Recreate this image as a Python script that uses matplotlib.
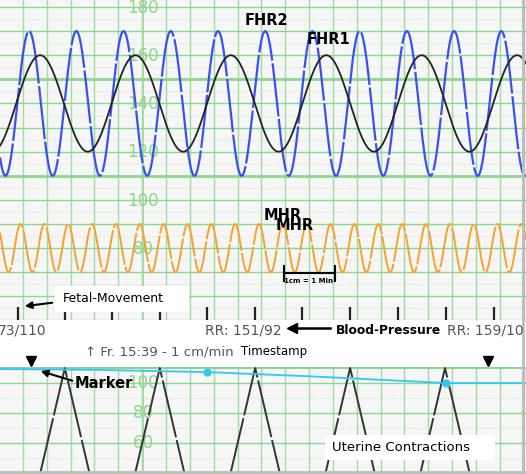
import numpy as np
import matplotlib.pyplot as plt
from matplotlib.patches import Rectangle

W, H = 526, 474
PX_PER_MIN = 47.7

# trace parameters (minutes / bpm)
fhr2_mean, fhr2_amp, fhr2_period, fhr2_peak = 140, 30, 0.99, 0.61
fhr1_mean, fhr1_amp, fhr1_period, fhr1_peak = 140, 20, 2.0, 0.84
mhr_mean, mhr_amp, mhr_period, mhr_peak = 80, 10, 0.5, 0.43

fm_ticks = [0.38, 1.36, 2.35, 3.35, 4.34, 5.35, 6.33, 7.34, 8.34, 9.35, 10.36]
uc_peaks = [1.36, 3.35, 5.35, 7.34, 9.33]
uc_peak_val = 110
uc_half_width = 0.81
bp_t = [0.0, 2.0, 4.34, 6.5, 9.35, 11.1]
bp_v = [109.3, 108.8, 107.3, 104.5, 100.0, 100.0]
bp_dots_t = [4.34, 9.35]
bp_dots_v = [107.3, 100.0]
marker_t = [0.65, 10.23]
fhr_ticks = [180, 160, 140, 120, 100, 80]
uc_ticks = [100, 80, 60]

xmax = W / PX_PER_MIN
t = np.linspace(0, xmax, 2000)

fig = plt.figure(figsize=(W / 100, H / 100), dpi=100)
fig.patch.set_facecolor('white')

def px_axes(top, bottom):
    return fig.add_axes([0, 1 - bottom / H, 1, (bottom - top) / H])

def grid(ax, ymin, ymax, major, minor, thick):
    ax.set_facecolor('#f6f6f6')
    for x in np.arange(0, xmax, 0.5):
        ax.axvline(x + 0.48, color='#a3daa3', lw=1.0, zorder=0)
    for y in np.arange(ymin - ymin % minor, ymax + minor, minor):
        ax.axhline(y, color='#bfe3bf', lw=0.7, ls=':', zorder=0)
    for y in np.arange(ymin - ymin % major, ymax + major, major):
        ax.axhline(y, color='#8fd48f', lw=2.0 if y in thick else 1.0, zorder=0)
    ax.set_xlim(0, xmax)
    ax.set_ylim(ymin, ymax)
    ax.set_xticks([]); ax.set_yticks([])
    for s in ax.spines.values():
        s.set_visible(False)

# ---- top: FHR / MHR ----
ax = px_axes(0, 320)
grid(ax, 50.2, 182.9, 10, 5, [110, 150])
ax.axvline(143 / PX_PER_MIN, color='#9fd89f', lw=1.2, zorder=1)
for v in fhr_ticks:
    ax.text(143 / PX_PER_MIN, v - 0.3, str(v), color='#8fd48f', fontsize=12,
            ha='center', va='center', zorder=1)

fhr2 = fhr2_mean + fhr2_amp * np.cos(2 * np.pi * (t - fhr2_peak) / fhr2_period)
fhr1 = fhr1_mean + fhr1_amp * np.cos(2 * np.pi * (t - fhr1_peak) / fhr1_period)
mhr = mhr_mean + mhr_amp * np.cos(2 * np.pi * (t - mhr_peak) / mhr_period)
ax.plot(t, fhr2, color='#3a50f0', lw=1.6, dashes=(24, 1.2), zorder=3)
ax.plot(t, fhr1, color='#222222', lw=1.3, zorder=4)
ax.plot(t, mhr, color='#f8a030', lw=1.4, dashes=(24, 1.2), zorder=3)

ax.text(245 / PX_PER_MIN, 172.5, 'FHR2', fontsize=10.5, fontweight='bold', zorder=5)
ax.text(307 / PX_PER_MIN, 164.5, 'FHR1', fontsize=10.5, fontweight='bold', zorder=5)
ax.text(264 / PX_PER_MIN, 91.5, 'MHR', fontsize=10.5, fontweight='bold', zorder=5)
ax.text(276 / PX_PER_MIN, 87.5, 'MHR', fontsize=10.5, fontweight='bold', zorder=5)

# 1 cm scale bar
sb_y = 69.5
ax.plot([284 / PX_PER_MIN, 335 / PX_PER_MIN], [sb_y, sb_y], color='black', lw=1.5, zorder=5)
for xx in [284, 335]:
    ax.plot([xx / PX_PER_MIN] * 2, [sb_y - 3, sb_y + 3], color='black', lw=1.5, zorder=5)
ax.text(309 / PX_PER_MIN, sb_y - 2, '1cm = 1 Min', fontsize=5, fontweight='bold',
        ha='center', va='top', zorder=5)

# fetal movement ticks
ax.vlines(fm_ticks, 50.2, 55.5, color='#222222', lw=1.6, zorder=3)
ax.add_patch(Rectangle((55 / PX_PER_MIN, 53.5), 134 / PX_PER_MIN, 11,
                       facecolor='white', edgecolor='none', zorder=6))
ax.text(63 / PX_PER_MIN, 59, 'Fetal-Movement', fontsize=9, va='center', zorder=7)
ax.annotate('', xy=(22 / PX_PER_MIN, 55.8), xytext=(55 / PX_PER_MIN, 57.5),
            arrowprops=dict(arrowstyle='-|>', color='black', lw=1.5), zorder=7)

# ---- middle white strip ----
fig.text(-2 / W, 1 - 331 / H, '73/110', fontsize=10, color='#555555', va='center')
fig.text(205 / W, 1 - 331 / H, 'RR: 151/92', fontsize=10, color='#555555', va='center')
fig.text(447 / W, 1 - 331 / H, 'RR: 159/10', fontsize=10, color='#555555', va='center')
fig.text(336 / W, 1 - 330 / H, 'Blood-Pressure', fontsize=8.8, fontweight='bold', va='center')
fig.text(85 / W, 1 - 352 / H, '\u2191 Fr. 15:39 - 1 cm/min', fontsize=9.5, color='#555555', va='center')
fig.text(241 / W, 1 - 351 / H, 'Timestamp', fontsize=8.5, va='center')
fig.add_artist(plt.Line2D([330 / W, 292 / W], [1 - 328 / H, 1 - 328 / H], color='black', lw=1.8))
fig.add_artist(plt.Line2D([292 / W], [1 - 328 / H], marker='<', color='black', ms=7))

# ---- bottom: uterine contractions ----
ax2 = px_axes(367, 472)
grid(ax2, 40.7, 110.7, 20, 10, [])
ax2.axhline(110, color='#8fd48f', lw=1.5, zorder=0)
ax2.axvline(143 / PX_PER_MIN, color='#9fd89f', lw=1.2, zorder=1)
for v in uc_ticks:
    ax2.text(143 / PX_PER_MIN, v, str(v), color='#8fd48f', fontsize=12,
             ha='center', va='center', zorder=1)
for p in uc_peaks:
    ax2.plot([p - uc_half_width, p, p + uc_half_width], [0, uc_peak_val, 0],
             color='#333333', lw=1.4, dashes=(30, 1.5), zorder=3)
ax2.plot(bp_t, bp_v, color='#33c8f0', lw=1.3, zorder=4)
ax2.plot(bp_dots_t, bp_dots_v, 'o', color='#33c8f0', ms=5, zorder=5)
ax2.add_patch(Rectangle((325 / PX_PER_MIN, 48.5), 170 / PX_PER_MIN, 17,
                        facecolor='white', edgecolor='none', zorder=6))
ax2.text(332 / PX_PER_MIN, 57, 'Uterine Contractions', fontsize=9.5, va='center', zorder=7)
ax2.text(75 / PX_PER_MIN, 100, 'Marker', fontsize=10.5, fontweight='bold', va='center', zorder=7)
ax2.annotate('', xy=(38 / PX_PER_MIN, 108.5), xytext=(75 / PX_PER_MIN, 101),
             arrowprops=dict(arrowstyle='-|>', color='black', lw=1.5), zorder=7)

for m in marker_t:
    fig.add_artist(plt.Line2D([m * PX_PER_MIN / W], [1 - 361 / H], marker='v',
                              color='black', ms=7, ls='none'))

# frame
fig.add_artist(plt.Line2D([523 / W, 523 / W], [0, 1], color='#bbbbbb', lw=2))
fig.add_artist(plt.Line2D([0, 1], [2 / H, 2 / H], color='#bbbbbb', lw=2))

fig.savefig('out.png', dpi=100, facecolor='white')
